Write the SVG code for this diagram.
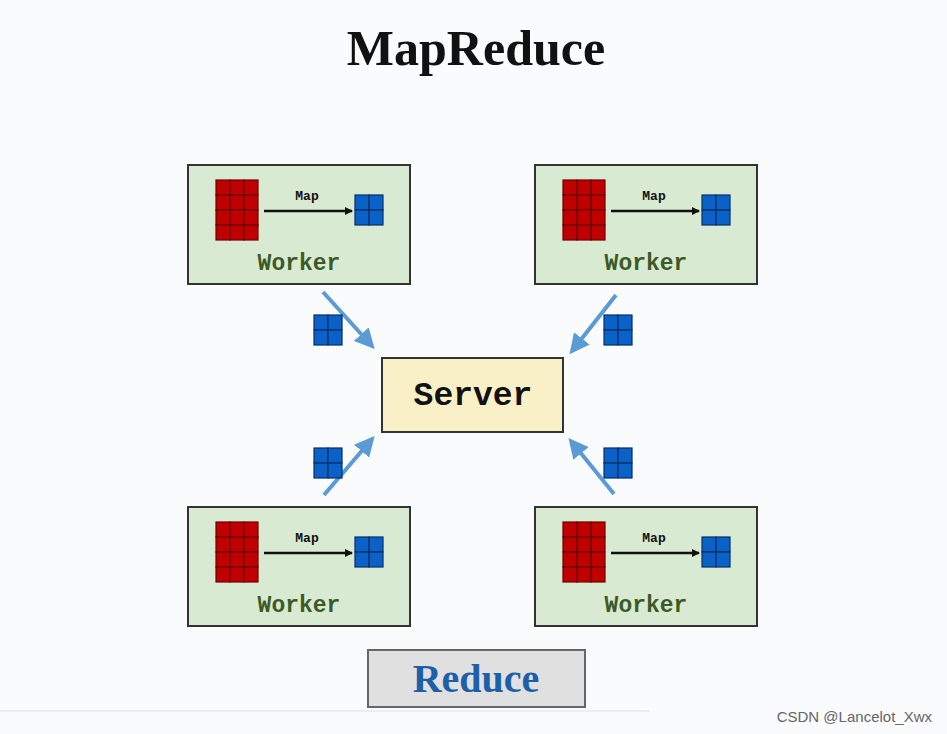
<svg xmlns="http://www.w3.org/2000/svg" width="947" height="734" viewBox="0 0 947 734">
<style>
.wbox{fill:#d9ead3;stroke:#333;stroke-width:2}
.red{fill:#c00000;stroke:#6a0000;stroke-width:1.2}
.blue{fill:#0a62c8;stroke:#062f66;stroke-width:1.2}
.map{font-family:"Liberation Mono",monospace;font-weight:bold;font-size:13px;fill:#111;text-anchor:middle}
.wt{font-family:"Liberation Mono",monospace;font-weight:bold;font-size:23px;fill:#3d5a26;text-anchor:middle}
.conn{stroke:#5b9bd5;stroke-width:4;fill:none;marker-end:url(#ah)}
</style>
<defs>
<marker id="ah" markerWidth="5" markerHeight="5" refX="4" refY="2.5" orient="auto" markerUnits="strokeWidth"><path d="M0,0L5,2.5L0,5z" fill="#5b9bd5"/></marker>
<marker id="bh" markerWidth="8" markerHeight="8" refX="7" refY="4" orient="auto" markerUnits="userSpaceOnUse"><path d="M0,0L8,4L0,8z" fill="#111"/></marker>
<g id="redg">
<rect class="red" x="0" y="0" width="14" height="15"/><rect class="red" x="14" y="0" width="14" height="15"/><rect class="red" x="28" y="0" width="14" height="15"/>
<rect class="red" x="0" y="15" width="14" height="15"/><rect class="red" x="14" y="15" width="14" height="15"/><rect class="red" x="28" y="15" width="14" height="15"/>
<rect class="red" x="0" y="30" width="14" height="15"/><rect class="red" x="14" y="30" width="14" height="15"/><rect class="red" x="28" y="30" width="14" height="15"/>
<rect class="red" x="0" y="45" width="14" height="15"/><rect class="red" x="14" y="45" width="14" height="15"/><rect class="red" x="28" y="45" width="14" height="15"/>
</g>
<g id="blueg">
<rect class="blue" x="0" y="0" width="14" height="15"/><rect class="blue" x="14" y="0" width="14" height="15"/>
<rect class="blue" x="0" y="15" width="14" height="15"/><rect class="blue" x="14" y="15" width="14" height="15"/>
</g>
<g id="worker">
<rect class="wbox" x="0" y="0" width="222" height="119"/>
<use href="#redg" x="28" y="15"/>
<line x1="76" y1="46" x2="164" y2="46" stroke="#111" stroke-width="2.5" marker-end="url(#bh)"/>
<text class="map" x="119" y="35">Map</text>
<use href="#blueg" x="167" y="30"/>
<text class="wt" x="111" y="105">Worker</text>
</g>
</defs>
<rect width="947" height="734" fill="#fafbfc"/>
<text x="476" y="65" font-family="Liberation Serif,serif" font-weight="bold" font-size="50" text-anchor="middle" fill="#111">MapReduce</text>
<g id="worker-tl"><use href="#worker" x="188" y="165"/></g>
<g id="worker-tr"><use href="#worker" x="535" y="165"/></g>
<g id="worker-bl"><use href="#worker" x="188" y="507"/></g>
<g id="worker-br"><use href="#worker" x="535" y="507"/></g>
<g id="server">
<rect x="382" y="358" width="181" height="74" fill="#f9f0c8" stroke="#333" stroke-width="2"/>
<text x="473" y="405" font-family="Liberation Mono,monospace" font-weight="bold" font-size="33" text-anchor="middle" fill="#111">Server</text>
</g>
<g id="connectors">
<line class="conn" x1="323" y1="292" x2="372" y2="346"/>
<line class="conn" x1="616" y1="295" x2="572" y2="351"/>
<line class="conn" x1="324" y1="495" x2="372" y2="439"/>
<line class="conn" x1="614" y1="494" x2="571" y2="441"/>
<use href="#blueg" x="314" y="315"/>
<use href="#blueg" x="604" y="315"/>
<use href="#blueg" x="314" y="448"/>
<use href="#blueg" x="604" y="448"/>
</g>
<g id="reduce">
<rect x="368" y="650" width="217" height="57" fill="#e0e0e0" stroke="#666" stroke-width="2"/>
<text x="476" y="692" font-family="Liberation Serif,serif" font-weight="bold" font-size="40" text-anchor="middle" fill="#1d5fa8">Reduce</text>
</g>
<line x1="0" y1="711" x2="650" y2="711" stroke="#e6eef7" stroke-width="2"/>
<text x="932" y="722" font-family="Liberation Sans,sans-serif" font-size="15" text-anchor="end" fill="#666">CSDN @Lancelot_Xwx</text>
</svg>
